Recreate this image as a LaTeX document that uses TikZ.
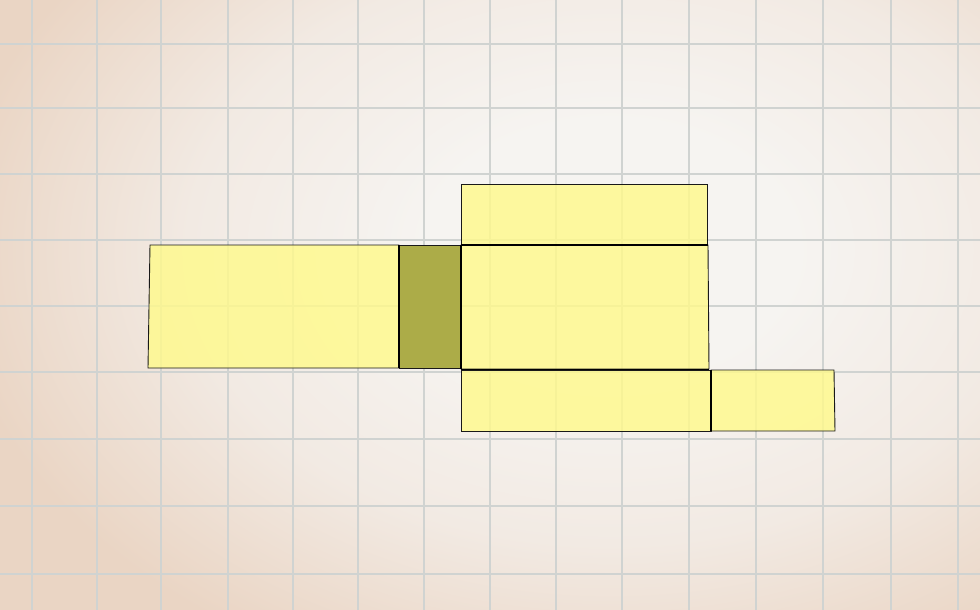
\documentclass[tikz,border=0pt]{standalone}
\definecolor{paperedge}{RGB}{234,213,196}
\definecolor{papermid}{RGB}{242,234,227}
\definecolor{papercenter}{RGB}{246,244,241}
\definecolor{gridgray}{RGB}{208,211,209}
\definecolor{tileyellow}{RGB}{255,250,140}
\definecolor{tileolive}{RGB}{172,172,72}
\pgfdeclareradialshading{papershade}{\pgfpoint{0bp}{0bp}}{color(0bp)=(papercenter); color(7bp)=(papercenter); color(16bp)=(papermid); color(25bp)=(paperedge); color(50bp)=(paperedge)}
\begin{document}
\begin{tikzpicture}[x=1pt,y=-1pt,
  gridline/.style={draw=gridgray,line width=1.4pt},
  tile/.style={fill=tileyellow,fill opacity=0.82,draw=black!90,line width=0.9pt,line join=miter},
  darktile/.style={fill=tileolive,draw=black!90,line width=0.9pt},
  seam/.style={draw=black,line width=1.5pt}]
\useasboundingbox (0,0) rectangle (980,610);
% paper background
\begin{scope}
\clip (0,0) rectangle (980,610);
\fill[paperedge] (0,0) rectangle (980,610);
\shade[shading=papershade] (610,250) ellipse [x radius=660, y radius=460];
\end{scope}
% grid
\foreach \gx in {32,97,161,228,293,358,424,490,556,622,689,756,823,891,958}
  \draw[gridline] (\gx,0) -- (\gx,610);
\foreach \gy in {44,108,174,240,306,372,439,506,574}
  \draw[gridline] (0,\gy) -- (980,\gy);
% tiles
\draw[tile] (150,245) -- (399,245) -- (399,368) -- (148,368) -- cycle;
\draw[darktile] (399,245) rectangle (461,368);
\draw[tile] (461,184) rectangle (707,245);
\draw[tile] (461,245) -- (708,245) -- (709,369) -- (461,369) -- cycle;
\draw[tile] (461,370) rectangle (711,431);
\draw[tile] (711,370) -- (834,370) -- (835,431) -- (711,431) -- cycle;
% seams
\coordinate (s1a) at (399,245); \coordinate (s1b) at (399,368);
\coordinate (s2a) at (461,245); \coordinate (s2b) at (461,369);
\coordinate (s3a) at (461,245); \coordinate (s3b) at (708,245);
\coordinate (s4a) at (461,369.5); \coordinate (s4b) at (709,369.5);
\coordinate (s5a) at (711,370); \coordinate (s5b) at (711,431);
\draw[seam] (s1a) -- (s1b);
\draw[seam] (s2a) -- (s2b);
\draw[seam] (s3a) -- (s3b);
\draw[seam] (s4a) -- (s4b);
\draw[seam] (s5a) -- (s5b);
\end{tikzpicture}
\end{document}
